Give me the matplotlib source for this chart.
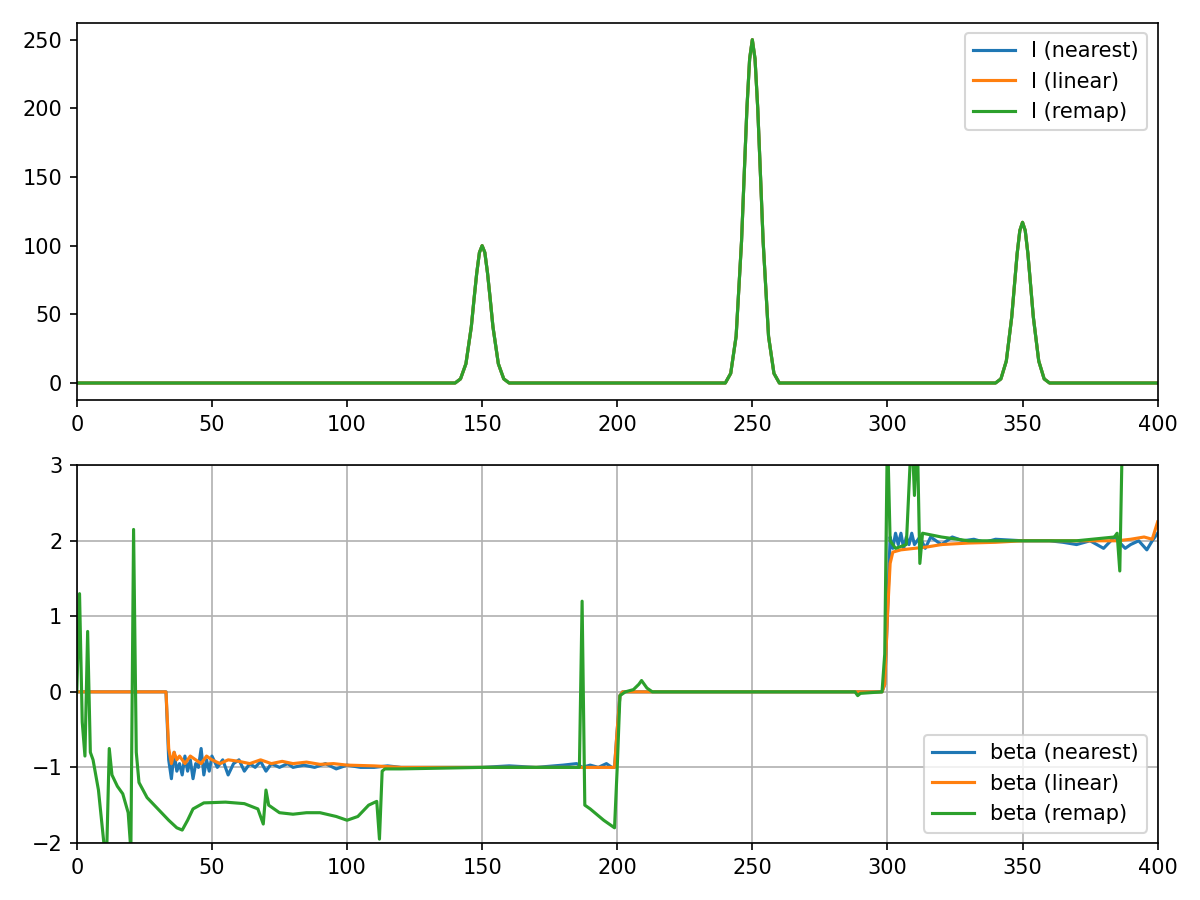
import matplotlib

matplotlib.use("Agg")
import matplotlib.pyplot as plt

# intensity profile (three peaks)
i_x = [0, 140, 142, 144, 146, 147, 148, 149, 150, 151, 152, 153, 154, 156, 158, 160,
       240, 242, 244, 246, 247, 248, 249, 250, 251, 252, 253, 254, 256, 258, 260,
       340, 342, 344, 346, 347, 348, 349, 350, 351, 352, 353, 354, 356, 358, 360, 400]
i_y = [0, 0, 3, 14, 41, 61, 80, 95, 100, 95, 80, 61, 41, 14, 3, 0,
       0, 7, 34, 103, 152, 200, 236, 250, 236, 200, 152, 103, 34, 7, 0,
       0, 3, 16, 48, 71, 94, 111, 117, 111, 94, 71, 48, 16, 3, 0, 0]

# beta (nearest) as (x, beta) pairs
beta_nearest = [
    (0, 0), (33, 0), (34, -0.9), (35, -1.15), (36, -0.8), (37, -1.05), (38, -0.95),
    (39, -1.1), (40, -0.85), (41, -1.05), (42, -0.9), (43, -1.15), (44, -0.95),
    (45, -1.0), (46, -0.75), (47, -1.1), (48, -0.9), (49, -1.05), (50, -0.85),
    (52, -1.0), (54, -0.9), (56, -1.1), (58, -0.95), (60, -0.9), (62, -1.05),
    (64, -0.95), (66, -1.0), (68, -0.92), (70, -1.05), (72, -0.95), (75, -1.0),
    (78, -0.95), (80, -1.0), (84, -0.97), (88, -1.0), (92, -0.95), (96, -1.02),
    (100, -0.97), (105, -1.0), (110, -1.0), (115, -0.98), (120, -1.0), (150, -1.0),
    (160, -0.98), (170, -1.0), (180, -0.97), (185, -0.95), (187, -1.0), (190, -0.97),
    (193, -1.0), (196, -0.95), (198, -1.0), (199, -1.0), (200, -0.5), (201, -0.05),
    (202, 0), (298, 0), (299, 0.1), (300, 1.0), (301, 2.05), (302, 1.9), (303, 2.1),
    (304, 1.95), (305, 2.1), (306, 1.9), (307, 2.05), (308, 1.95), (309, 2.1),
    (310, 1.95), (312, 2.05), (314, 1.9), (316, 2.05), (318, 2.0), (320, 1.95),
    (324, 2.05), (328, 2.0), (332, 2.02), (336, 1.98), (340, 2.02), (350, 2.0),
    (360, 2.0), (365, 1.98), (370, 1.95), (375, 2.0), (380, 1.9), (384, 2.05),
    (388, 1.9), (390, 1.95), (393, 2.0), (396, 1.88), (398, 2.0), (400, 2.1),
]

# beta (linear)
beta_linear = [
    (0, 0), (33, 0), (34, -0.75), (35, -0.95), (36, -0.8), (37, -0.9), (38, -0.85),
    (40, -0.95), (42, -0.85), (44, -0.9), (46, -0.95), (48, -0.85), (50, -0.9),
    (53, -0.95), (56, -0.9), (60, -0.92), (64, -0.95), (68, -0.9), (72, -0.95),
    (76, -0.92), (80, -0.95), (85, -0.93), (90, -0.96), (95, -0.95), (100, -0.97),
    (110, -0.98), (120, -1.0), (150, -1.0), (190, -1.0), (199, -1.0), (200, -0.5),
    (201, -0.05), (202, 0), (298, 0), (299, 0.1), (300, 1.0), (301, 1.7), (302, 1.85),
    (305, 1.88), (310, 1.9), (315, 1.92), (320, 1.95), (330, 1.97), (340, 1.98),
    (350, 2.0), (360, 2.0), (370, 2.0), (380, 2.0), (385, 2.0), (390, 2.02),
    (395, 2.05), (398, 2.02), (400, 2.25),
]

# beta (remap)
beta_remap = [
    (0, 0), (1, 1.3), (2, -0.4), (3, -0.85), (4, 0.8), (5, -0.8), (6, -0.9), (8, -1.3),
    (10, -2.0), (11, -2.2), (12, -0.75), (13, -1.1), (15, -1.25), (17, -1.35),
    (19, -1.6), (20, -2.1), (21, 2.15), (22, -0.8), (23, -1.2), (26, -1.4), (30, -1.55),
    (34, -1.7), (37, -1.8), (39, -1.83), (41, -1.7), (43, -1.55), (47, -1.47),
    (55, -1.46), (62, -1.48), (67, -1.55), (69, -1.75), (70, -1.3), (71, -1.5),
    (75, -1.6), (80, -1.62), (85, -1.6), (90, -1.6), (96, -1.65), (100, -1.7),
    (104, -1.65), (108, -1.5), (111, -1.45), (112, -1.95), (113, -1.05), (114, -1.02),
    (120, -1.02), (150, -1.0), (186, -1.0), (187, 1.2), (188, -1.5), (190, -1.55),
    (195, -1.7), (199, -1.8), (200, -1.0), (201, -0.05), (203, 0.0), (206, 0.03),
    (208, 0.1), (209, 0.15), (211, 0.05), (213, 0.0), (288, 0.0), (289, -0.05),
    (290, -0.02), (298, 0.0), (299, 0.5), (300, 3.5), (301, 2.0), (303, 1.9),
    (307, 1.95), (309, 3.5), (310, 2.6), (311, 3.5), (312, 1.7), (313, 2.1),
    (320, 2.05), (330, 2.0), (370, 2.0), (384, 2.05), (385, 2.1), (386, 1.6),
    (387, 3.5), (388, 3.5),
]

fig, (ax1, ax2) = plt.subplots(2, 1, figsize=(8, 6), dpi=150)

ax1.plot(i_x, i_y, label="I (nearest)")
ax1.plot(i_x, i_y, label="I (linear)")
ax1.plot(i_x, i_y, label="I (remap)")
ax1.set_xlim(0, 400)
ax1.legend(loc="upper right")

for pairs, name in [(beta_nearest, "nearest"), (beta_linear, "linear"), (beta_remap, "remap")]:
    xs, ys = zip(*pairs)
    ax2.plot(xs, ys, label=f"beta ({name})")
ax2.set_xlim(0, 400)
ax2.set_ylim(-2, 3)
ax2.grid(True)
ax2.legend(loc="lower right")

fig.tight_layout()
fig.savefig("out.png")
